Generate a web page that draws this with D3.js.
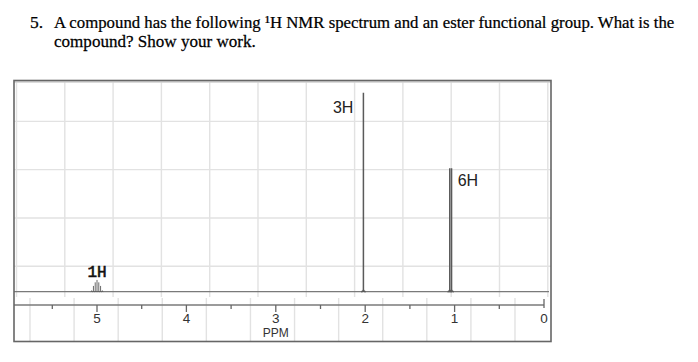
<!DOCTYPE html>
<html>
<head>
<meta charset="utf-8">
<script src="https://cdn.jsdelivr.net/npm/d3@7"></script>
<style>
  html, body { margin: 0; padding: 0; background: #fff; }
  svg { display: block; }
</style>
</head>
<body>
<svg id="chart" width="698" height="362"></svg>
<script>
// ---- data ----
const titleLines = [
  "A compound has the following \u00B9H NMR spectrum and an ester functional group. What is the",
  "compound? Show your work."
];
const questionNumber = "5.";
// spectrum lines: chemical shift (ppm) and intensity (3H singlet = 100)
const peakPpm       = [5.06, 5.04, 5.02, 5.00, 4.98, 4.96, 4.94, 2.02, 1.054, 1.034];
const peakIntensity = [0.6,  2.9,  4.7,  5.9,  4.7,  2.9,  0.6,  100,  62,    62];
// integration labels
const labelText = ["1H", "3H", "6H"];
const labelPpm  = [5.00, 2.02, 1.044];
const labelInt  = [7.5, 90, 53];
// axis ticks
const majorTicks = [5, 4, 3, 2, 1, 0];
const minorTicks = [5.5, 4.5, 3.5, 2.5, 1.5, 0.5];
const axisTitle = "PPM";

// ---- layout ----
const svg = d3.select("#chart");
const frame = {left: 14, top: 80.5, right: 551, bottom: 341.5};
const baseY = 291.7, topY = 92.7, axisY = 305;

const x = d3.scaleLinear().domain([5, 0]).range([97, 544]);
const y = d3.scaleLinear().domain([0, 100]).range([baseY, topY]);

// title (each line horizontally fitted to the reference width)
const tg = svg.append("g").attr("font-family", "'Liberation Serif', 'DejaVu Serif', serif")
  .attr("font-size", 17.5).attr("fill", "#000").attr("stroke", "#000").attr("stroke-width", 0.25);
tg.append("text").attr("x", 30).attr("y", 28).text(questionNumber);
const titleSpec = [{x: 54, y: 28, w: 621}, {x: 54, y: 47, w: 202}];
titleLines.forEach((t, i) => {
  const s = titleSpec[i];
  const g = tg.append("g");
  const txt = g.append("text").attr("x", 0).attr("y", 0).text(t);
  const nat = txt.node().getComputedTextLength();
  const k = s.w / nat;
  g.attr("transform", `translate(${s.x},${s.y}) scale(${k},1)`);
});

// upper grid (spectrum area)
const gridColor = "#e2e2e2";
const gx = d3.scaleLinear().domain([0, 11]).range([16.5, 547.8]);
const gy = d3.scaleLinear().domain([0, 4]).range([266.3, 73]);
const grid = svg.append("g").attr("stroke", gridColor).attr("stroke-width", 1.4);
grid.selectAll(".vg").data(d3.range(12)).join("line")
  .attr("x1", d => gx(d)).attr("x2", d => gx(d)).attr("y1", 82).attr("y2", 297);
grid.selectAll(".hg").data([0, 1, 2, 3]).join("line")
  .attr("x1", frame.left).attr("x2", frame.right).attr("y1", d => gy(d)).attr("y2", d => gy(d));
grid.append("line").attr("x1", frame.left).attr("x2", frame.right).attr("y1", 82).attr("y2", 82)
  .attr("stroke", "#cfcfcf");

// lower grid (axis area)
const lx = d3.scaleLinear().domain([0, 11]).range([30, 515]);
grid.selectAll(".lg").data(d3.range(12)).join("line")
  .attr("x1", d => lx(d)).attr("x2", d => lx(d)).attr("y1", 298).attr("y2", frame.bottom);

// baseline of spectrum
svg.append("line").attr("x1", frame.left).attr("x2", 549).attr("y1", baseY).attr("y2", baseY)
  .attr("stroke", "#7a7a7a").attr("stroke-width", 1.2);

// peaks
const peaks = peakPpm.map((p, i) => ({p, v: peakIntensity[i]}));
svg.append("g").selectAll("path").data(peaks).join("path")
  .attr("d", d => {
    const cx = x(d.p), top = y(d.v), w = d.v > 20 ? 2.2 : 0.8;
    return `M${cx - w},${baseY} Q${cx},${baseY} ${cx},${baseY - w} L${cx},${top} M${cx},${baseY - w} Q${cx},${baseY} ${cx + w},${baseY}`;
  })
  .attr("fill", "none").attr("stroke", "#5a5a5a")
  .attr("stroke-width", d => d.v > 20 ? 1.5 : 0.9);

// axis line and ticks
svg.append("line").attr("x1", frame.left).attr("x2", x(0)).attr("y1", axisY).attr("y2", axisY)
  .attr("stroke", "#7a7a7a").attr("stroke-width", 1.5);
const tk = svg.append("g").attr("stroke", "#666").attr("stroke-width", 1.3);
tk.selectAll(".mj").data(majorTicks).join("line")
  .attr("x1", d => x(d)).attr("x2", d => x(d))
  .attr("y1", d => d === 0 ? 299 : axisY).attr("y2", d => d === 0 ? 308 : 312);
tk.selectAll(".mn").data(minorTicks).join("line")
  .attr("x1", d => x(d)).attr("x2", d => x(d)).attr("y1", axisY).attr("y2", 309);

const tl = svg.append("g").attr("font-family", "'Liberation Sans', Arial, sans-serif")
  .attr("font-size", 13.5).attr("fill", "#333").attr("text-anchor", "middle");
tl.selectAll("text").data(majorTicks).join("text")
  .attr("x", d => x(d)).attr("y", 323).text(d => d);
svg.append("text").attr("x", x(3)).attr("y", 337).attr("text-anchor", "middle")
  .attr("font-family", "'Liberation Sans', Arial, sans-serif").attr("font-size", 12)
  .attr("fill", "#333").text(axisTitle);

// integration labels
const lab = svg.append("g");
lab.append("text").attr("x", x(labelPpm[0])).attr("y", y(labelInt[0])).attr("text-anchor", "middle")
  .attr("font-family", "'Liberation Mono', 'Courier New', monospace").attr("font-size", 16)
  .attr("fill", "#111").attr("stroke", "#111").attr("stroke-width", 0.6).text(labelText[0]);
lab.append("text").attr("x", x(labelPpm[1]) - 10).attr("y", y(labelInt[1])).attr("text-anchor", "end")
  .attr("font-family", "'Liberation Sans', Arial, sans-serif").attr("font-size", 16)
  .attr("fill", "#222").text(labelText[1]);
lab.append("text").attr("x", x(labelPpm[2]) + 7).attr("y", y(labelInt[2])).attr("text-anchor", "start")
  .attr("font-family", "'Liberation Sans', Arial, sans-serif").attr("font-size", 16)
  .attr("fill", "#222").text(labelText[2]);

// frame
svg.append("rect").attr("x", frame.left).attr("y", frame.top)
  .attr("width", frame.right - frame.left).attr("height", frame.bottom - frame.top)
  .attr("fill", "none").attr("stroke", "#666").attr("stroke-width", 1.6);
</script>
</body>
</html>
